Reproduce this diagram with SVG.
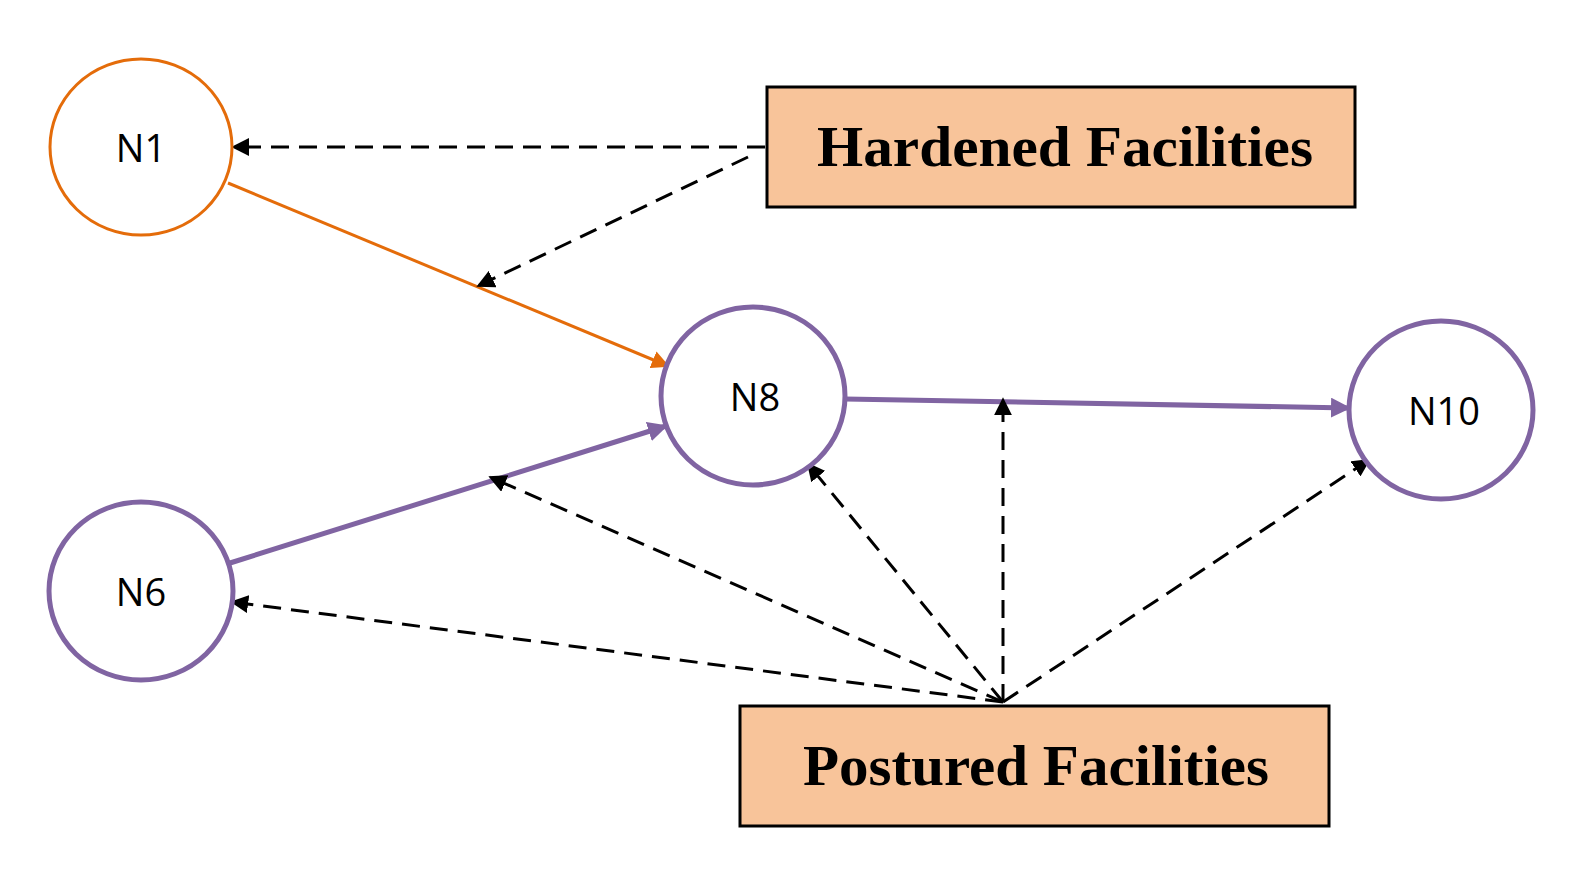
<svg xmlns="http://www.w3.org/2000/svg" width="1591" height="875" viewBox="0 0 1591 875">
<defs>
<marker id="ab" viewBox="0 0 10 10" refX="9" refY="5" markerWidth="6" markerHeight="6" orient="auto"><path d="M0,0L10,5L0,10z" fill="#000"/></marker>
<marker id="ao" viewBox="0 0 10 10" refX="9" refY="5" markerWidth="6" markerHeight="6" orient="auto"><path d="M0,0L10,5L0,10z" fill="#E46C0A"/></marker>
<marker id="ap" viewBox="0 0 10 10" refX="9" refY="5" markerWidth="4" markerHeight="4" orient="auto"><path d="M0,0L10,5L0,10z" fill="#8064A2"/></marker>
<style>
.c{fill:#fff;stroke-width:5}
.t{font-family:"Open Sans","DejaVu Sans",sans-serif;font-size:38px;text-anchor:middle;dominant-baseline:central}
.b{fill:#F8C49A;stroke:#000;stroke-width:3}
.bt{font-family:"Liberation Serif",serif;font-weight:bold;font-size:56px;text-anchor:middle;dominant-baseline:central}
.d{stroke:#000;stroke-width:3;stroke-dasharray:18 10;fill:none;marker-end:url(#ab)}
</style>
</defs>
<rect width="1591" height="875" fill="#fff"/>
<g id="connectors">
<line x1="228" y1="183" x2="668" y2="366" stroke="#E46C0A" stroke-width="3" marker-end="url(#ao)"/>
<line x1="230" y1="563" x2="666" y2="426" stroke="#8064A2" stroke-width="5" marker-end="url(#ap)"/>
<line x1="845" y1="399" x2="1349" y2="408" stroke="#8064A2" stroke-width="5" marker-end="url(#ap)"/>
<line x1="765" y1="147" x2="233" y2="147" class="d"/>
<line x1="748" y1="157" x2="478" y2="286" class="d"/>
<line x1="1003" y1="702" x2="1003" y2="399" class="d"/>
<line x1="1003" y1="702" x2="808" y2="464" class="d"/>
<line x1="1003" y1="702" x2="490" y2="477" class="d"/>
<line x1="1003" y1="702" x2="232" y2="602" class="d"/>
<line x1="1003" y1="702" x2="1369" y2="460" class="d"/>
</g>
<g id="N1"><ellipse cx="141" cy="147" rx="91" ry="88" class="c" stroke="#E46C0A" style="stroke-width:3"/><text x="141" y="147" class="t">N1</text></g>
<g id="N8"><ellipse cx="753" cy="396" rx="92" ry="89" class="c" stroke="#8064A2"/><text x="755" y="396" class="t">N8</text></g>
<g id="N10"><ellipse cx="1441" cy="410" rx="92" ry="89" class="c" stroke="#8064A2"/><text x="1444" y="410" class="t">N10</text></g>
<g id="N6"><ellipse cx="141" cy="591" rx="92" ry="89" class="c" stroke="#8064A2"/><text x="141" y="591" class="t">N6</text></g>
<g id="hardened"><rect x="767" y="87" width="588" height="120" class="b"/><text x="1065" y="147" class="bt" textLength="496" lengthAdjust="spacingAndGlyphs">Hardened Facilities</text></g>
<g id="postured"><rect x="740" y="706" width="589" height="120" class="b"/><text x="1036" y="766" class="bt" textLength="466" lengthAdjust="spacingAndGlyphs">Postured Facilities</text></g>
</svg>
